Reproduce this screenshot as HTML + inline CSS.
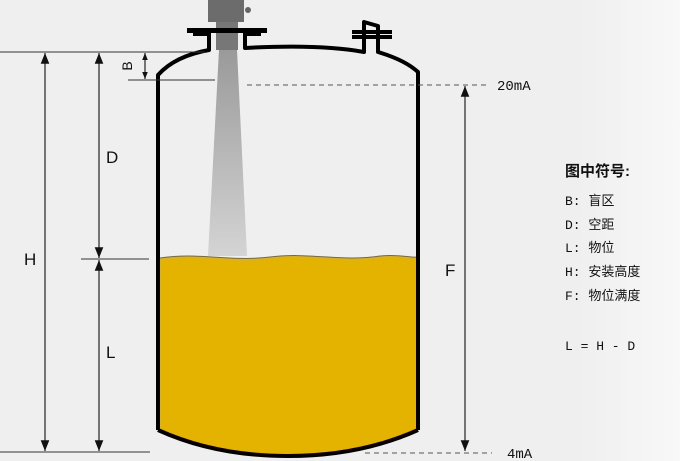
<!DOCTYPE html>
<html><head><meta charset="utf-8"><style>
html,body{margin:0;padding:0;background:#efefef;}
svg{display:block}
text{font-family:"Liberation Sans","Noto Sans CJK SC",sans-serif;fill:#111}
.m{font-family:"Liberation Mono","Noto Sans CJK SC",monospace}
</style></head><body>
<svg width="680" height="461" viewBox="0 0 680 461" xmlns="http://www.w3.org/2000/svg">
<defs>
<linearGradient id="bg" x1="0" x2="1"><stop offset="0.85" stop-color="#efefef"/><stop offset="1" stop-color="#f8f8f8"/></linearGradient>
<linearGradient id="beam" x1="0" y1="0" x2="0" y2="1"><stop offset="0" stop-color="#9a9a9a"/><stop offset="1" stop-color="#d4d4d4"/></linearGradient>
<marker id="a" viewBox="0 0 10 10" refX="10" refY="5" markerWidth="9" markerHeight="9" orient="auto-start-reverse"><path d="M0,1 L10,5 L0,9z" fill="#111"/></marker>
<marker id="s" viewBox="0 0 10 10" refX="10" refY="5" markerWidth="6" markerHeight="6" orient="auto-start-reverse"><path d="M0,1 L10,5 L0,9z" fill="#111"/></marker>
</defs>
<rect width="680" height="461" fill="url(#bg)"/>
<path d="M160,258 C200,252 230,262 270,257 C310,252 340,262 380,256 C400,254 410,258 418,257 L418,430 Q360,456 288,456 Q215,456 160,430 Z" fill="#e3b300"/>
<path d="M160,258 C200,252 230,262 270,257 C310,252 340,262 380,256 C400,254 410,258 418,257" fill="none" stroke="#7a6a30" stroke-width="1"/>
<path d="M219,50 L237,50 L247,256 L208,256 Z" fill="url(#beam)"/>
<rect x="208" y="0" width="36" height="22" fill="#6c6c6c"/>
<circle cx="248" cy="10" r="3" fill="#666"/>
<rect x="216" y="22" width="22" height="28" fill="#777"/>
<g fill="none" stroke="#000" stroke-width="4" stroke-linejoin="round">
<path d="M158,430 L158,75 Q175,56 209,50 L209,34"/>
<path d="M245,34 L245,48 Q320,44 364,52 L364,22 L378,26 L378,52 Q405,60 418,72 L418,430"/>
<path d="M158,430 Q215,456 288,456 Q360,456 418,430"/>
</g>
<rect x="187" y="28" width="80" height="5" fill="#000"/>
<rect x="193" y="33" width="18" height="3" fill="#000"/>
<rect x="243" y="33" width="18" height="3" fill="#000"/>
<rect x="352" y="30" width="40" height="4" fill="#000"/>
<rect x="352" y="35" width="40" height="4" fill="#000"/>
<g stroke="#333" stroke-width="1">
<line x1="0" y1="52" x2="205" y2="52"/>
<line x1="128" y1="80" x2="215" y2="80"/>
<line x1="81" y1="259" x2="149" y2="259"/>
<line x1="0" y1="452" x2="150" y2="452"/>
</g>
<g stroke="#555" stroke-width="1" stroke-dasharray="5,4">
<line x1="247" y1="85" x2="490" y2="85"/>
<line x1="365" y1="453" x2="492" y2="453"/>
</g>
<g stroke="#222" stroke-width="1.2">
<line x1="45" y1="53" x2="45" y2="451" marker-start="url(#a)" marker-end="url(#a)"/>
<line x1="99" y1="53" x2="99" y2="258" marker-start="url(#a)" marker-end="url(#a)"/>
<line x1="99" y1="260" x2="99" y2="451" marker-start="url(#a)" marker-end="url(#a)"/>
<line x1="145" y1="53" x2="145" y2="79" marker-start="url(#s)" marker-end="url(#s)"/>
<line x1="465" y1="86" x2="465" y2="451" marker-start="url(#a)" marker-end="url(#a)"/>
</g>
<text x="106" y="163" font-size="17">D</text>
<text x="24" y="265" font-size="17">H</text>
<text x="106" y="358" font-size="17">L</text>
<text x="445" y="276" font-size="17">F</text>
<text x="132" y="66" font-size="14" transform="rotate(-90 132 66)" text-anchor="middle">B</text>
<text x="497" y="90" font-size="14" class="m">20mA</text>
<text x="507" y="458" font-size="14" class="m">4mA</text>
<text x="565" y="176" font-size="15" font-weight="bold">图中符号:</text>
<g font-size="13" class="m">
<text x="565" y="205" class="m">B: 盲区</text>
<text x="565" y="229" class="m">D: 空距</text>
<text x="565" y="252" class="m">L: 物位</text>
<text x="565" y="276" class="m">H: 安装高度</text>
<text x="565" y="300" class="m">F: 物位满度</text>
<text x="565" y="350" class="m">L = H - D</text>
</g>
</svg>
</body></html>
